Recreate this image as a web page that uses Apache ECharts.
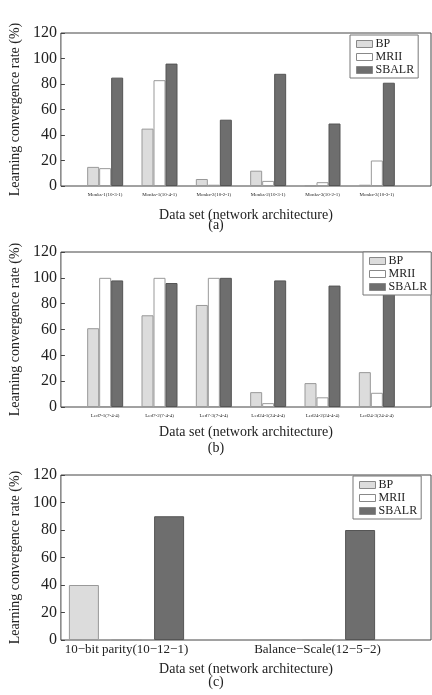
<!DOCTYPE html>
<html><head><meta charset="utf-8">
<script src="https://cdn.jsdelivr.net/npm/echarts@6/dist/echarts.min.js"></script>
<style>html,body{margin:0;padding:0;background:#fff}#c{width:432px;height:695px}</style>
</head><body><div id="c"></div>
<script>
const seriesNames = ['BP','MRII','SBALR'];
const catsA = ['Monks-1(10-3-1)','Monks-1(10-4-1)','Monks-2(10-2-1)','Monks-2(10-3-1)','Monks-3(10-2-1)','Monks-3(10-3-1)'];
const bpA = [15,45,5.5,12,0.3,1];
const mriiA = [14,83,1,4,3,20];
const sbalrA = [85,96,52,88,49,81];
const catsB = ['Led7-1(7-4-4)','Led7-2(7-4-4)','Led7-3(7-4-4)','Led24-1(24-4-4)','Led24-2(24-4-4)','Led24-3(24-4-4)'];
const bpB = [61,71,79,11.5,18.5,27];
const mriiB = [100,100,100,3,7.5,11];
const sbalrB = [98,96,100,98,94,98];
const catsC = ['10\u2212bit parity(10\u221212\u22121)','Balance\u2212Scale(12\u22125\u22122)'];
const bpC = [40,0];
const mriiC = [0,0];
const sbalrC = [90,80];
const yTicks = [0,20,40,60,80,100,120];

const F = 'Liberation Serif, DejaVu Serif, serif';
const colors = ['#dcdcdc','#ffffff','#6e6e6e'];
const panels = [
  {top:33,h:153,dl:78,dr:28,cats:catsA,data:[bpA,mriiA,sbalrA],lab:5,bw:12,gap:'0%',legend:{left:350,top:35,w:80}, tag:'(a)',tagY:221,nameGap:22},
  {top:252,h:155,dl:78,dr:28,cats:catsB,data:[bpB,mriiB,sbalrB],lab:5,bw:12,gap:'0%',legend:{left:363,top:252,w:68}, tag:'(b)',tagY:444,nameGap:18},
  {top:475,h:165,dl:31,dr:19,cats:catsC,data:[bpC,mriiC,sbalrC],lab:13,bw:30,gap:'42%',legend:{left:353,top:476,w:78}, tag:'(c)',tagY:678,nameGap:22}
];
const grid=[],xAxis=[],yAxis=[],series=[],legend=[],title=[];
panels.forEach((p,i)=>{
  const H=695;
  grid.push({left:52,right:1,top:p.top,height:p.h,show:true,borderColor:'#444',borderWidth:1,backgroundColor:'transparent'});
  grid.push({left:p.dl,right:p.dr,top:p.top,height:p.h});
  xAxis.push({gridIndex:2*i,type:'category',data:[''],axisLine:{show:false},axisTick:{show:false},axisLabel:{show:false},
    name:'Data set (network architecture)',nameLocation:'middle',nameGap:p.nameGap,nameTextStyle:{fontFamily:F,fontSize:14,color:'#222'}});
  xAxis.push({gridIndex:2*i+1,type:'category',data:p.cats,axisLine:{show:false},axisTick:{show:false},
    axisLabel:{interval:0,fontFamily:F,fontSize:p.lab,color:'#222',margin:p.lab>10?3:6}});
  yAxis.push({gridIndex:2*i,type:'value',min:yTicks[0],max:yTicks[yTicks.length-1],interval:20,
    axisLine:{show:false},axisTick:{show:true,inside:true,length:4,lineStyle:{color:'#444'}},splitLine:{show:false},
    axisLabel:{fontFamily:F,fontSize:16,color:'#222',margin:4},
    name:'Learning convergence rate (%)',nameLocation:'middle',nameGap:32,nameTextStyle:{fontFamily:F,fontSize:14,color:'#222'}});
  yAxis.push({gridIndex:2*i+1,type:'value',min:0,max:120,interval:20,show:false});
  p.data.forEach((d,k)=>{
    series.push({type:'bar',name:seriesNames[k],xAxisIndex:2*i+1,yAxisIndex:2*i+1,data:d,barWidth:p.bw,barGap:p.gap,
      itemStyle:{color:colors[k],borderColor:k==2?'#555':'#999',borderWidth:1},silent:true});
  });
  legend.push({data:seriesNames,orient:'vertical',left:p.legend.left,top:p.legend.top,width:p.legend.w,
    backgroundColor:'#fff',borderColor:'#777',borderWidth:1,padding:[3,4,2,6],itemGap:1,itemWidth:16,itemHeight:7,icon:'rect',
    itemStyle:{borderColor:'#888',borderWidth:1},
    textStyle:{fontFamily:F,fontSize:12,color:'#222',padding:[0,0,0,-2]},selectedMode:false});
  title.push({text:p.tag,left:'center',top:p.tagY-8,textStyle:{fontFamily:F,fontSize:14,fontWeight:'normal',color:'#222'}});
});
const chart=echarts.init(document.getElementById('c'),null,{renderer:'canvas'});
chart.setOption({animation:false,grid,xAxis,yAxis,series,legend,title});
</script></body></html>
